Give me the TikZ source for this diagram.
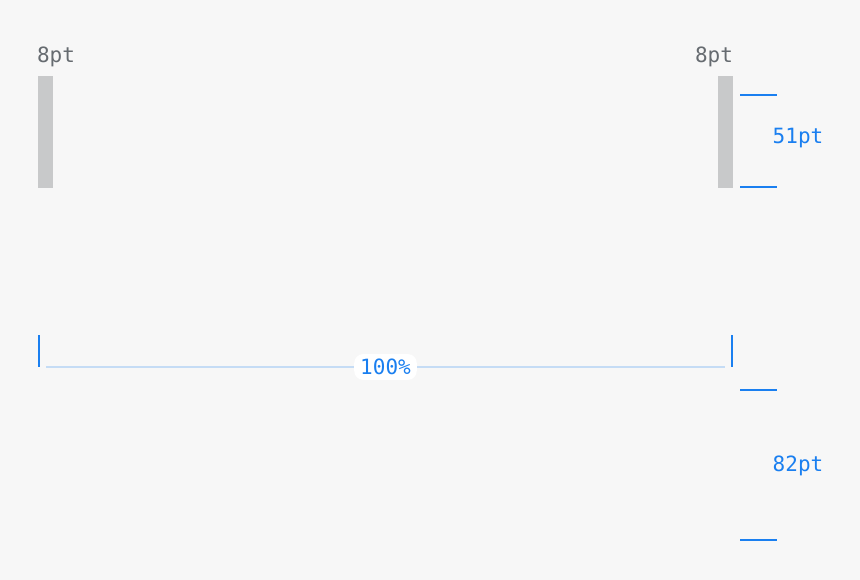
\documentclass[tikz,border=0pt]{standalone}
\usepackage{fontspec}
\setmonofont{DejaVu Sans Mono}
\usetikzlibrary{positioning}
\definecolor{bgcol}{HTML}{F7F7F7}
\definecolor{bargray}{HTML}{C8C9CA}
\definecolor{txtgray}{HTML}{666B70}
\definecolor{mblue}{HTML}{1A7FF0}
\definecolor{lblue}{HTML}{C5DCF5}

\begin{document}
\begin{tikzpicture}[x=1pt, y=-1pt,
    bar/.style={fill=bargray, minimum width=15pt, minimum height=112pt, inner sep=0pt},
    gl/.style={text=txtgray, font=\ttfamily\fontsize{21}{25}\selectfont, inner sep=0pt},
    bl/.style={text=mblue, font=\ttfamily\fontsize{21}{25}\selectfont, inner sep=0pt},
    tk/.style={draw=mblue, line width=2pt}]
    \fill[bgcol] (0,0) rectangle (860,580);
    \useasboundingbox (0,0) rectangle (860,580);
    % bars with widths
    \node[bar] (barL) at (45.5,132) {};
    \node[bar] (barR) at (725.5,132) {};
    \node[gl] (wL) at (56,57) {8pt};
    \node[gl] (wR) at (714,57) {8pt};
    % height 51pt
    \coordinate (a1) at (740,95);
    \coordinate (a2) at (777,95);
    \coordinate (b1) at (740,187);
    \coordinate (b2) at (777,187);
    \draw[tk] (a1) -- (a2);
    \draw[tk] (b1) -- (b2);
    \node[bl] (hA) at (798,138) {51pt};
    % full width
    \coordinate (l1) at (39,335);
    \coordinate (l2) at (39,367);
    \coordinate (r1) at (732,335);
    \coordinate (r2) at (732,367);
    \coordinate (m1) at (46,367);
    \coordinate (m2) at (725,367);
    \draw[tk] (l1) -- (l2);
    \draw[tk] (r1) -- (r2);
    \draw[draw=lblue, line width=2pt] (m1) -- node[bl, fill=white, rounded corners=9pt, inner xsep=6pt, inner ysep=5pt] (pct) {100\%} (m2);
    % height 82pt
    \coordinate (c1) at (740,390);
    \coordinate (c2) at (777,390);
    \coordinate (d1) at (740,540);
    \coordinate (d2) at (777,540);
    \draw[tk] (c1) -- (c2);
    \draw[tk] (d1) -- (d2);
    \node[bl] (hB) at (798,466) {82pt};
\end{tikzpicture}
\end{document}
